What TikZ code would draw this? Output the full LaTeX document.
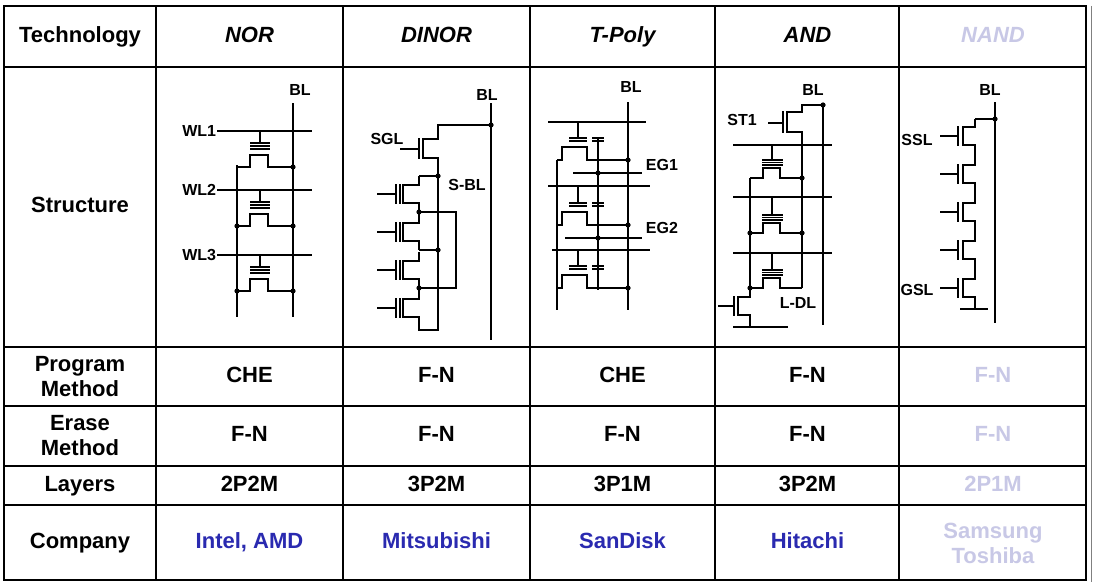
\documentclass[tikz,border=0pt]{standalone}
\usepackage{fontspec}
\setmainfont{Liberation Sans}
\definecolor{blu}{HTML}{2A2AB0}
\definecolor{fade}{HTML}{C8C8E6}
\begin{document}
\begin{tikzpicture}[x=1pt,y=-1pt,
  txt/.style={font=\fontsize{22}{25}\selectfont\bfseries,align=center,inner sep=0pt},
  one/.style={txt,text height=16pt,text depth=4.5pt},
  hd/.style={one,font=\fontsize{22}{25}\selectfont\bfseries\itshape},
  lab/.style={font=\fontsize{16}{17}\selectfont\bfseries,inner sep=0pt},
  wire/.style={line width=1.8pt},
  plate/.style={line width=1.3pt},
  grid/.style={line width=2pt}]
\useasboundingbox (0,0) rectangle (1098,586);
\fill[white] (0,0) rectangle (1098,586);
% table
\draw[grid] (4,6) rectangle (1086,580);
\foreach \y in {67,347,406,466,505} \draw[grid] (4,\y)--(1086,\y);
\foreach \x in {156,343,530,715,899} \draw[grid] (\x,6)--(\x,580);
\draw[gray,line width=1pt] (1091,6)--(1091,582);
% header
\node[one] (h0) at (80,37) {Technology};
\node[hd] (h1) at (249.5,37) {NOR};
\node[hd] (h2) at (436.5,37) {DINOR};
\node[hd] (h3) at (622.5,37) {T-Poly};
\node[hd] (h4) at (807.5,37) {AND};
\node[hd,text=fade] (h5) at (993,37) {NAND};
\node[one] (r1) at (80,207) {Structure};
\node[txt] (r2) at (80,377) {Program\\Method};
\node[txt] (r3) at (80,436) {Erase\\Method};
\node[one] (r4) at (80,486) {Layers};
\node[one] (r5) at (80,543) {Company};
\node[one] (p1) at (249.5,377) {CHE};
\node[one] (p2) at (436.5,377) {F-N};
\node[one] (p3) at (622.5,377) {CHE};
\node[one] (p4) at (807.5,377) {F-N};
\node[one,text=fade] (p5) at (993,377) {F-N};
\node[one] (e1) at (249.5,436) {F-N};
\node[one] (e2) at (436.5,436) {F-N};
\node[one] (e3) at (622.5,436) {F-N};
\node[one] (e4) at (807.5,436) {F-N};
\node[one,text=fade] (e5) at (993,436) {F-N};
\node[one] (l1) at (249.5,486) {2P2M};
\node[one] (l2) at (436.5,486) {3P2M};
\node[one] (l3) at (622.5,486) {3P1M};
\node[one] (l4) at (807.5,486) {3P2M};
\node[one,text=fade] (l5) at (993,486) {2P1M};
\node[one,text=blu] (c1) at (249.5,543) {Intel, AMD};
\node[one,text=blu] (c2) at (436.5,543) {Mitsubishi};
\node[one,text=blu] (c3) at (622.5,543) {SanDisk};
\node[one,text=blu] (c4) at (807.5,543) {Hitachi};
\node[txt,text=fade] (c5) at (993,543) {Samsung\\Toshiba};
\begin{scope}[wire]
% ---------- NOR
\node[lab] (norbl) at (300,90) {BL};
\draw (293,103)--(293,317);
\draw (237,165)--(237,317);
\foreach \w/\n in {131/1,190/2,255/3}{
  \node[lab,anchor=east] at (217,\w) {WL\n};
  \draw (217,\w)--(312,\w);
  \draw (260,\w)--(260,\w+11);
  \foreach \p in {12,15,18} \draw[plate] (250,\w+\p)--(270,\w+\p);
  \draw (237,\w+36)--(250,\w+36)--(250,\w+24)--(268,\w+24)--(268,\w+36)--(293,\w+36);
  \fill (293,\w+36) circle (2.6);
}
\fill (237,226) circle (2.6);
\fill (237,291) circle (2.6);
% ---------- DINOR
\node[lab] at (487,95) {BL};
\node[lab] at (387,139) {SGL};
\node[lab] at (467,185) {S-BL};
\draw (491,103)--(491,340);
\fill (491,125) circle (2.6);
\draw (491,125)--(438,125)--(438,139)--(423,139)--(423,158)--(438,158)--(438,330)--(419,330)--(419,326);
\draw (419,138)--(419,159); \draw (400,149)--(419,149);
\fill (438,176) circle (2.6);
\draw (438,176)--(419,176);
\foreach \t in {176,214,252,290}{
  \draw (419,\t)--(419,\t+9)--(403,\t+9)--(403,\t+27)--(419,\t+27)--(419,\t+36);
  \draw (396,\t+8)--(396,\t+28); \draw (400,\t+8)--(400,\t+28);
  \draw (377,\t+18)--(396,\t+18);
}
\draw (419,212)--(456,212)--(456,288)--(419,288);
\draw (419,250)--(438,250);
\fill (419,212) circle (2.6); \fill (419,288) circle (2.6); \fill (438,250) circle (2.6);
% ---------- T-Poly
\node[lab] at (631,87) {BL};
\node[lab] at (662,165) {EG1};
\node[lab] at (662,228) {EG2};
\draw (628,102)--(628,310);
\draw (557,160)--(557,310);
\draw (548,122)--(646,122); \draw (548,186)--(650,186); \draw (552,250)--(650,250);
\draw (573,173)--(642,173); \draw (565,238)--(642,238);
\draw (598,138)--(598,290);
\fill (598,173) circle (2.6); \fill (598,238) circle (2.6);
\foreach \w/\b in {122/160,186/225,250/288}{
  \draw (578,\w)--(578,\b-22);
  \draw[plate] (569,\b-22)--(587,\b-22); \draw[plate] (569,\b-19)--(587,\b-19);
  \draw[plate] (592,\b-22)--(604,\b-22); \draw[plate] (592,\b-19)--(604,\b-19);
  \draw (557,\b)--(562,\b)--(562,\b-13)--(587,\b-13)--(587,\b)--(628,\b);
  \fill (628,\b) circle (2.6);
}
% ---------- AND
\node[lab] at (813,90) {BL};
\node[lab] at (742,120) {ST1};
\node[lab] at (798,303) {L-DL};
\draw (823,103)--(823,325);
\fill (823,105) circle (2.6);
\draw (823,105)--(802,105)--(802,112)--(787,112)--(787,132)--(802,132)--(802,288);
\draw (783,111)--(783,133); \draw (768,123)--(783,123);
\draw (750,178)--(750,297)--(738,297)--(738,315)--(750,315)--(750,327);
\draw (734,296)--(734,316); \draw (718,306)--(734,306);
\draw (733,327)--(788,327);
\foreach \w/\b in {145/178,197/233,253/288}{
  \draw (733,\w)--(832,\w);
  \draw (772,\w)--(772,\b-19);
  \foreach \p in {18,15.5,13} \draw[plate] (762,\b-\p)--(783,\b-\p);
  \draw (750,\b)--(763,\b)--(763,\b-10)--(780,\b-10)--(780,\b)--(802,\b);
}
\fill (802,178) circle (2.6); \fill (750,233) circle (2.6); \fill (802,233) circle (2.6); \fill (750,288) circle (2.6);
% ---------- NAND
\node[lab] at (990,90) {BL};
\node[lab] at (917,140) {SSL};
\node[lab] at (917,290) {GSL};
\draw (995,102)--(995,323);
\fill (995,119) circle (2.6);
\draw (995,119)--(975,119);
\foreach \t in {119,157,195,233,271}{
  \draw (975,\t)--(975,\t+8)--(963,\t+8)--(963,\t+26)--(975,\t+26)--(975,\t+38);
  \draw (958,\t+7)--(958,\t+27); \draw (940,\t+17)--(958,\t+17);
}
\draw (960,309)--(988,309);
\end{scope}
\end{tikzpicture}
\end{document}
